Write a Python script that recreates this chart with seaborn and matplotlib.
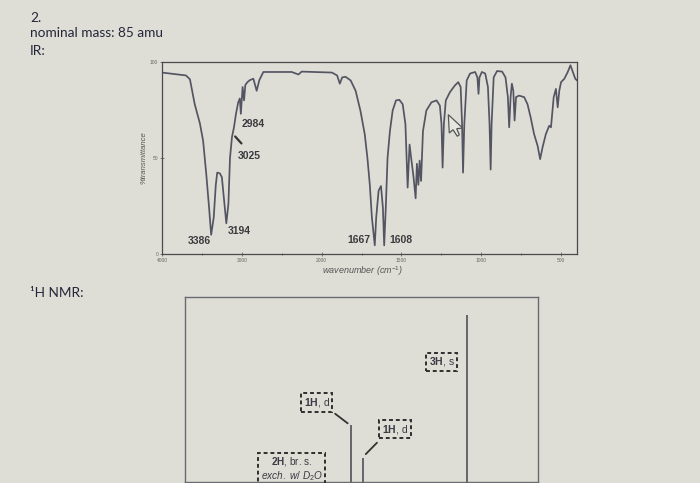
import numpy as np
import pandas as pd
import matplotlib
matplotlib.use("Agg")
import matplotlib.pyplot as plt
import seaborn as sns
from matplotlib.patches import Polygon

# ---------------- data ----------------
wavenumber = [4000, 3700, 3650, 3590, 3525, 3485, 3445, 3410, 3384, 3352, 3326, 3308,
              3275, 3250, 3224, 3194, 3168, 3148, 3123, 3098, 3073, 3045, 3025, 3012,
              2990, 2972, 2956, 2930, 2897, 2855, 2814, 2780, 2730, 2540, 2375, 2290,
              2250, 1935, 1903, 1886, 1871, 1850, 1818, 1787, 1757, 1730, 1713, 1698,
              1685, 1667, 1658, 1643, 1628, 1616, 1608, 1598, 1587, 1572, 1555, 1534,
              1513, 1492, 1475, 1461, 1449, 1439, 1424, 1411, 1403, 1394, 1386, 1377,
              1365, 1344, 1312, 1280, 1259, 1249, 1242, 1234, 1222, 1196, 1165, 1144,
              1129, 1120, 1114, 1106, 1091, 1070, 1038, 1024, 1017, 1011, 996, 975,
              958, 948, 941, 935, 922, 901, 869, 848, 833, 825, 816, 808, 799, 791,
              782, 763, 731, 710, 690, 669, 647, 631, 616, 595, 574, 563, 546, 532,
              521, 511, 500, 479, 458, 441, 426, 411, 400]
transmittance = [94.5, 93, 91, 78, 68, 59, 41.5, 24, 10, 19, 36, 42.4,
                 42, 40, 29, 16, 26, 50, 61, 66, 73, 79, 81, 73,
                 87, 80, 88, 89.5, 90.6, 91.3, 85, 90.6, 94.8, 94.8, 94.8, 93.5,
                 95, 94.5, 93, 88.7, 92, 92.3, 90.4, 85, 74.7, 62.5, 50, 36,
                 19, 4.5, 19, 33, 35.4, 24, 4.5, 24, 50, 64, 74.7, 80,
                 80.3, 78, 67.7, 34.6, 57, 50, 40, 29, 47, 36, 48.7, 38,
                 64, 74.7, 79, 80, 77.3, 67.7, 45, 67.7, 80, 84.3, 87.8, 89.5,
                 87, 67.7, 42.4, 67.7, 90.4, 94, 94.8, 92, 83.4, 92, 94.8, 94,
                 87, 67.7, 44, 67.7, 92, 95.3, 95, 92, 81.7, 66, 81.7, 88.7, 85, 69.5,
                 81.7, 82.5, 81.7, 78, 71, 62.5, 56.4, 49.4, 55.5, 62.5, 66.8, 66, 81.7, 86,
                 76.4, 85, 89.5, 91.3, 94.8, 98.3, 94.8, 91.3, 90.4]

ir_labels = ["3386", "3194", "2984", "3025", "1667", "1608"]
ir_label_w = [3535, 3031, 2862, 2906, 1766, 1503]
ir_label_t = [6.8, 12.0, 67.5, 51.3, 7.3, 7.3]

x_ticks = [4000, 3000, 2000, 1500, 1000, 500]
x_minor = [3500, 2500, 1750, 1250, 750]
y_ticks = [0, 50, 100]

nmr_ppm = [5.65, 5.28, 1.90]
nmr_height = [30.8, 13.0, 90.3]
nmr_labels = [r"$\mathbf{1H}$, d", r"$\mathbf{1H}$, d", r"$\mathbf{3H}$, s"]
nmr_label_ppm = [6.77, 4.23, 2.71]
nmr_label_h = [43.0, 28.6, 64.9]
nmr_lead_from = [(6.24, 37.8), (4.75, 22.3)]
nmr_lead_to = [(5.69, 30.8), (5.24, 14.0)]
nh_label = r"$\mathbf{2H}$, br. s." + "\n" + r"$\mathit{exch.\ w/\ D_2O}$"
nh_label_pos = (7.58, 7.0)

# ---------------- style ----------------
sns.set_theme(style="white")
plt.rcParams['font.family'] = ['Liberation Sans', 'DejaVu Sans']
plt.rcParams['mathtext.fontset'] = 'custom'
plt.rcParams['mathtext.rm'] = 'Liberation Sans'
plt.rcParams['mathtext.bf'] = 'Liberation Sans:bold'
plt.rcParams['mathtext.it'] = 'Liberation Sans:italic'

bg = '#deded6'
ink = '#545563'
fig = plt.figure(figsize=(7, 4.83), dpi=100)
fig.patch.set_facecolor(bg)

# ---------------- IR spectrum ----------------
def fwd(w):
    w = np.asarray(w, dtype=float)
    return np.where(w >= 2000, w, 2 * w - 2000)

def inv(p):
    p = np.asarray(p, dtype=float)
    return np.where(p >= 2000, p, (p + 2000) / 2)

ax = fig.add_axes([162 / 700, 1 - 254 / 483, 415 / 700, 192 / 483])
ax.set_facecolor('none')
df = pd.DataFrame({'wavenumber': wavenumber, 'T': transmittance})
sns.lineplot(data=df, x='wavenumber', y='T', sort=False, estimator=None,
             color=ink, lw=1.25, ax=ax)
ax.set_xscale('function', functions=(fwd, inv))
ax.set_xlim(4000, 400)
ax.set_ylim(0, 100)
ax.set_xticks(x_ticks)
ax.set_xticklabels([str(t) for t in x_ticks], fontsize=3.5, color='#777')
ax.set_xticks(x_minor, minor=True)
ax.set_yticks(y_ticks)
ax.set_yticklabels([str(t) for t in y_ticks], fontsize=3.5, color='#666')
ax.tick_params(axis='both', which='both', length=2.5, width=0.6, colors='#666',
               pad=1.5, direction='inout', bottom=True, left=True)
ax.tick_params(axis='x', which='minor', length=1.5)
for s in ax.spines.values():
    s.set_color('#4a4a4e')
    s.set_linewidth(0.9)
ax.set_ylabel('%transmittance', fontsize=5.5, style='italic', color='#555')
ax.yaxis.set_label_coords(-0.036, 0.5)
ax.set_xlabel('wavenumber (cm$^{-1}$)', fontsize=6.5, style='italic', color='#555')
ax.xaxis.set_label_coords(0.482, -0.055)

for lab, w, t in zip(ir_labels, ir_label_w, ir_label_t):
    ax.text(w, t, lab, fontsize=7.5, fontweight='bold', color='#3b3b3f',
            ha='center', va='center')
ax.annotate('', xy=(3107, 62.3), xytext=(2981, 56.5), textcoords='data',
            arrowprops=dict(arrowstyle='-', color='#333', lw=1.6))

# mouse cursor (screen-shot artefact)
cur = [(448.3, 114.7), (449.3, 133), (453, 129.7), (457.3, 136.3),
       (459.3, 134.7), (456.7, 128.7), (462.7, 128)]
fig.patches.append(Polygon([(x / 700, 1 - y / 483) for x, y in cur], closed=True,
                           transform=fig.transFigure, fc='#e6e6e0', ec='#555',
                           lw=0.9, zorder=5))

# ---------------- 1H NMR ----------------
ax2 = fig.add_axes([185 / 700, 1 - 482 / 483, 353 / 700, 185 / 483])
ax2.set_facecolor('none')
ax2.set_xlim(11.03, -0.4)
ax2.set_ylim(0, 100)
ax2.vlines(nmr_ppm, 0, nmr_height, color='#505058', lw=1.2)
ax2.set_xticks([])
ax2.set_yticks([])
for s in ax2.spines.values():
    s.set_color('#6a6a72')
    s.set_linewidth(1.0)

box = dict(boxstyle='square,pad=0.25', fc='none', ec='#2e2e2e',
           ls=(0, (2, 1.5)), lw=1.4)
for lab, p, h in zip(nmr_labels, nmr_label_ppm, nmr_label_h):
    ax2.text(p, h, lab, fontsize=7.5, color='#3a3a44', ha='center', va='center',
             bbox=box)
for (p0, h0), (p1, h1) in zip(nmr_lead_from, nmr_lead_to):
    ax2.annotate('', xy=(p1, h1), xytext=(p0, h0), textcoords='data',
                 arrowprops=dict(arrowstyle='-', color='#333', lw=1.3))
ax2.text(nh_label_pos[0], nh_label_pos[1], nh_label, fontsize=7.2, color='#3a3a44',
         ha='center', va='center', linespacing=1.1, bbox=box)

# ---------------- page text ----------------
page = dict(fontsize=9.8, family=['Lato', 'DejaVu Sans'], color='#24253a', va='center')
fig.text(30 / 700, 1 - 17.5 / 483, '2.', **page)
fig.text(30 / 700, 1 - 33 / 483, 'nominal mass: 85 amu', **page)
fig.text(30 / 700, 1 - 51 / 483, 'IR:', **page)
fig.text(30 / 700, 1 - 293 / 483, '¹H NMR:', **page)

fig.savefig('out.png', dpi=100, facecolor=bg)
